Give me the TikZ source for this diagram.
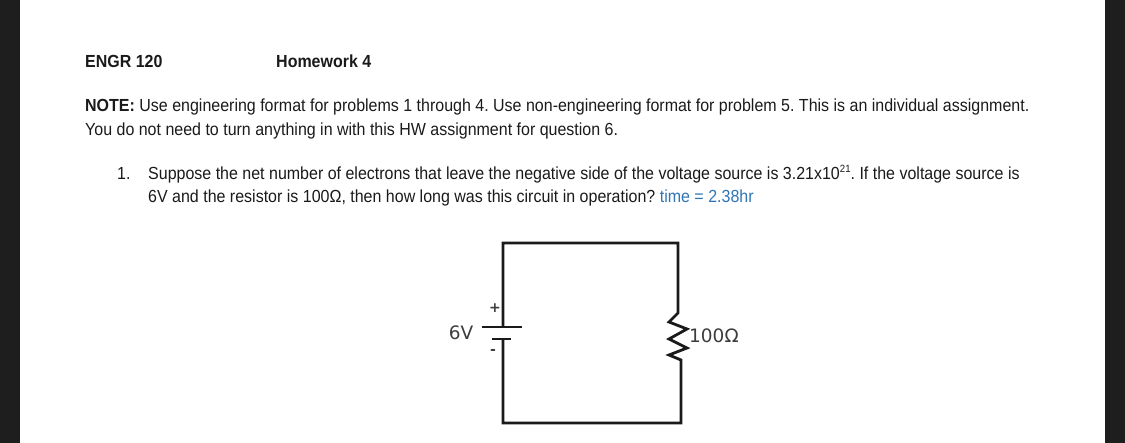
\documentclass[tikz,border=0pt]{standalone}
\usepackage{fontspec}
\setmainfont[FakeStretch=0.914]{Liberation Sans}
\newfontfamily\labelfont{DejaVu Sans}
\usepackage{tikz}
\usetikzlibrary{positioning}
\definecolor{sidebar}{HTML}{1E1E1E}
\definecolor{answer}{HTML}{2E75B6}
\definecolor{ink}{HTML}{1A1A1A}
\tikzset{
	txt/.style={anchor=base west,inner sep=0pt,text=ink,font=\fontsize{17.5}{20}\selectfont},
	lbl/.style={inner sep=0pt,text=ink!85,font=\labelfont\fontsize{18.5}{20}\selectfont},
	sgn/.style={inner sep=0pt,text=ink!85,font=\labelfont\bfseries\fontsize{14}{15}\selectfont},
	wire/.style={draw=ink,line width=2.8pt,line join=miter},
	plate/.style={draw=ink,line width=2.8pt}
}
\frenchspacing

\begin{document}
\begin{tikzpicture}[x=1pt,y=-1pt]
	\useasboundingbox (0,0) rectangle (1125,443);
	\fill[sidebar] (0,0) rectangle (20,443);
	\fill[sidebar] (1105,0) rectangle (1125,443);
	% heading
	\node[txt] (course) at (85,68) {\textbf{ENGR 120}};
	\node[txt] (hw) at (276,68) {\textbf{Homework 4}};
	\node[txt] (note1) at (85,112) {\textbf{NOTE:} Use engineering format for problems 1 through 4. Use non-engineering format for problem 5. This is an individual assignment.};
	\node[txt] (note2) at (85,136) {You do not need to turn anything in with this HW assignment for question 6.};
	\node[txt] (num) at (117,180) {1.};
	\node[txt] (q1) at (148,180) {Suppose the net number of electrons that leave the negative side of the voltage source is 3.21x10\raisebox{0.45em}{\fontsize{10.5}{11}\selectfont 21}. If the voltage source is};
	\node[txt] (q2) at (148,203) {6V and the resistor is 100Ω, then how long was this circuit in operation? \textcolor{answer}{time = 2.38hr}};
	% circuit
	\coordinate (plus) at (503,327);
	\coordinate (minus) at (503,339);
	\coordinate (tl) at (503,243);
	\coordinate (tr) at (678,243);
	\coordinate (rtop) at (678,313);
	\coordinate (rbot) at (681,360);
	\coordinate (br) at (681,423);
	\coordinate (bl) at (503,423);
	\coordinate (pl) at (482,327);
	\coordinate (pr) at (522,327);
	\coordinate (ml) at (492,339);
	\coordinate (mr) at (511,339);
	\draw[wire] (plus) -- (tl) -- (tr) -- (rtop)
		-- (669,322) -- (687,329) -- (669,339) -- (687,348) -- (669,355) -- (rbot)
		-- (br) -- (bl) -- (minus);
	\draw[plate] (pl) -- (pr);
	\draw[plate] (ml) -- (mr);
	\node[lbl] (vlabel) at (461,333) {6V};
	\node[lbl,anchor=west] (rlabel) at (689,336) {100Ω};
	\node[sgn] (plabel) at (495,308) {+};
	\node[sgn] (mlabel) at (493,352) {-};
\end{tikzpicture}
\end{document}
